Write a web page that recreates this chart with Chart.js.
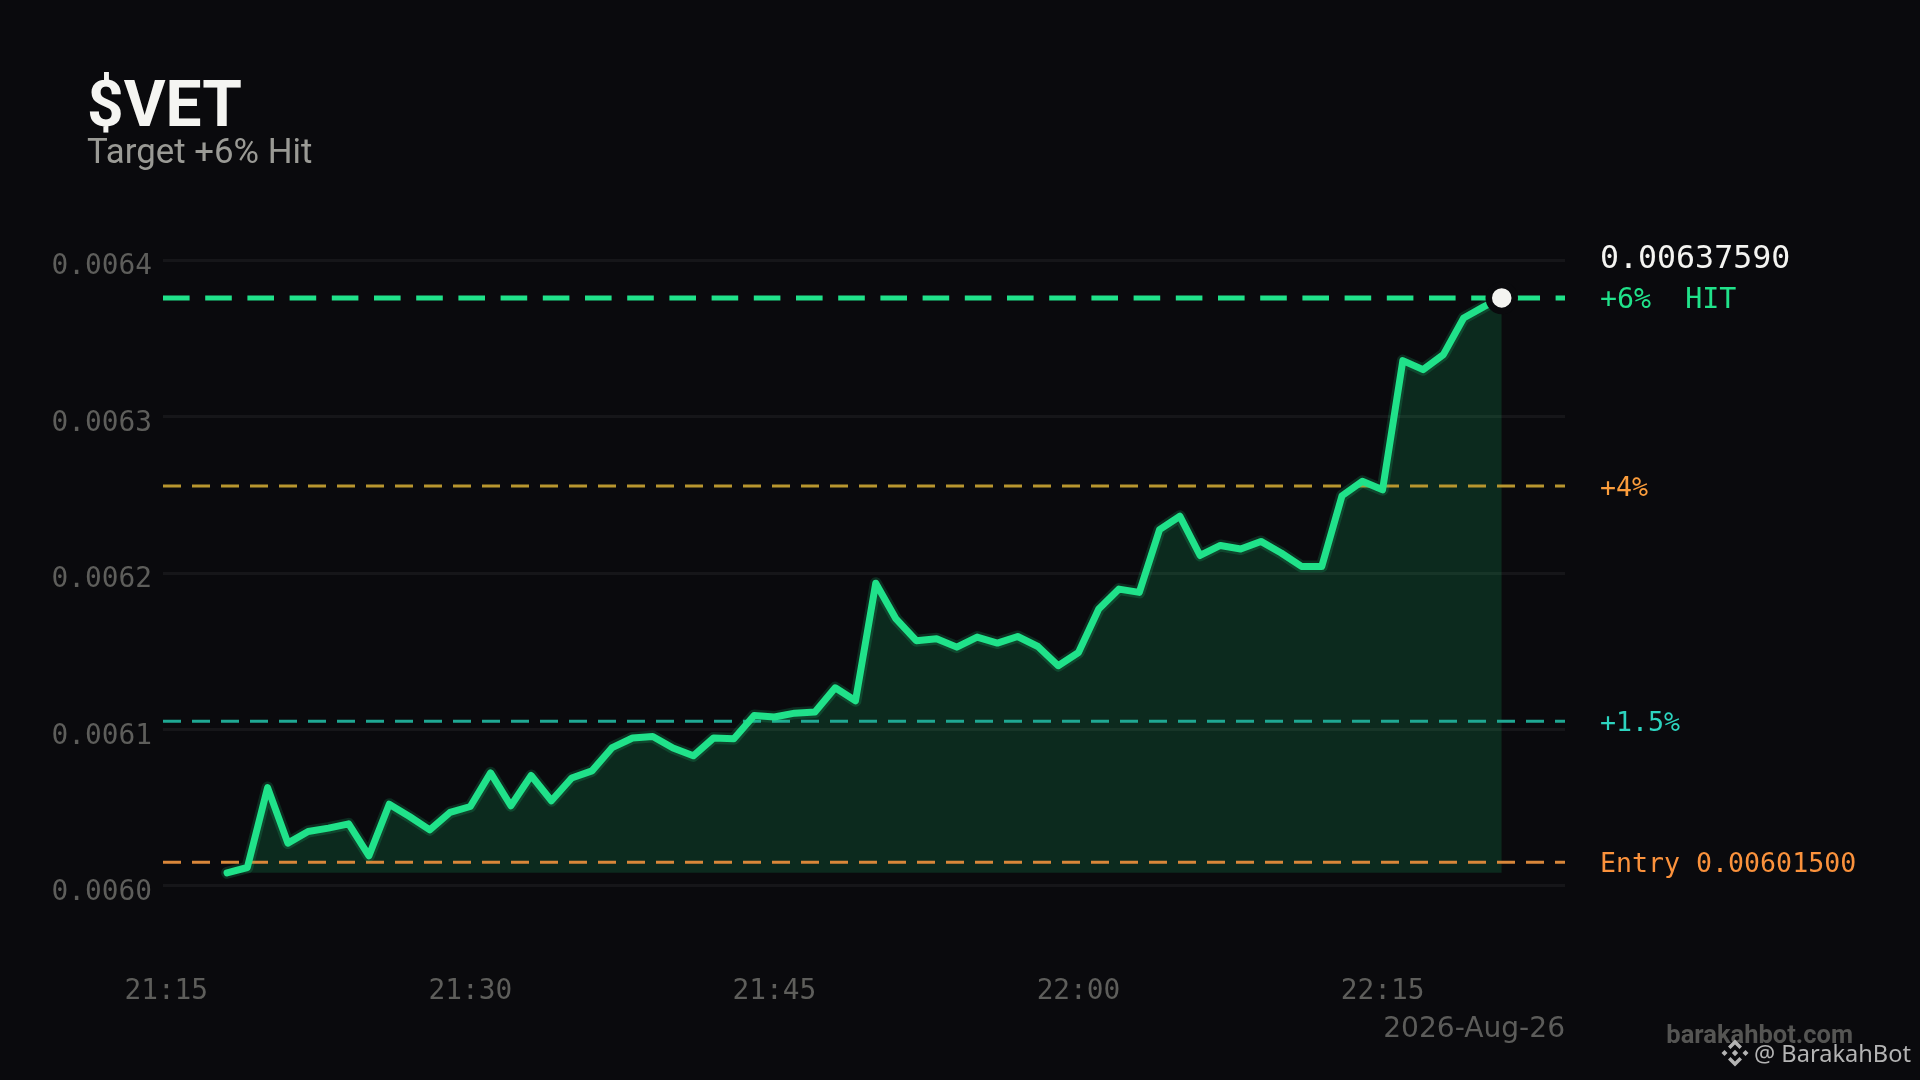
<!DOCTYPE html>
<html>
<head>
<meta charset="utf-8">
<title>$VET</title>
<script src="https://cdn.jsdelivr.net/npm/chart.js@4"></script>
<style>
    html, body { margin: 0; padding: 0; background: #0a0a0d; }
    canvas { display: block; }
</style>
</head>
<body>
<canvas id="grafico" width="1920" height="1080"></canvas>
<script>
// minutes since midnight, 21:18 to 22:20
const priceTimes = [
    1278, 1279, 1280, 1281, 1282, 1283, 1284, 1285, 1286, 1287, 1288, 1289, 1290, 1291, 1292, 1293,
    1294, 1295, 1296, 1297, 1298, 1299, 1300, 1301, 1302, 1303, 1304, 1305, 1306, 1307, 1308, 1309,
    1310, 1311, 1312, 1313, 1314, 1315, 1316, 1317, 1318, 1319, 1320, 1321, 1322, 1323, 1324, 1325,
    1326, 1327, 1328, 1329, 1330, 1331, 1332, 1333, 1334, 1335, 1336, 1337, 1338, 1339, 1340, 1340.88
];
const priceValues = [
    0.0060083, 0.0060117, 0.0060628, 0.0060273, 0.0060347, 0.0060369, 0.0060396, 0.0060192,
    0.0060522, 0.0060443, 0.0060358, 0.0060469, 0.0060507, 0.0060722, 0.0060512, 0.0060705,
    0.0060544, 0.0060689, 0.0060735, 0.0060884, 0.0060945, 0.0060955, 0.0060881, 0.0060831,
    0.0060945, 0.0060940, 0.0061089, 0.0061079, 0.0061104, 0.0061111, 0.0061266, 0.0061183,
    0.0061935, 0.0061706, 0.0061567, 0.0061580, 0.0061526, 0.0061590, 0.0061552, 0.0061594,
    0.0061530, 0.0061407, 0.0061492, 0.0061770, 0.0061897, 0.0061876, 0.0062277, 0.0062363,
    0.0062112, 0.0062176, 0.0062153, 0.0062202, 0.0062128, 0.0062042, 0.0062042, 0.0062494,
    0.0062586, 0.0062532, 0.0063358, 0.0063300, 0.0063396, 0.0063630, 0.0063703, 0.0063759
];
const xTickValues = [1275, 1290, 1305, 1320, 1335];
const xTickLabels = ["21:15", "21:30", "21:45", "22:00", "22:15"];
const yTickValues = [0.0060, 0.0061, 0.0062, 0.0063, 0.0064];
const yTickLabels = ["0.0060", "0.0061", "0.0062", "0.0063", "0.0064"];

const levelValues = [0.0063759, 0.0062556, 0.00610523, 0.006015];
const levelLabels = ["+6%  HIT", "+4%", "+1.5%", "Entry 0.00601500"];
const levelLineColors = ["#20e28a", "#b8962f", "#1fa893", "#d9873a"];
const levelTextColors = ["#20e28a", "#fb9d3c", "#2dd4bf", "#fb923c"];
const levelWidths = [5, 3, 3, 3];
const levelDashes = [[26.6, 15.6], [18, 11], [18, 11], [18, 11]];
const levelFontSizes = [28.3, 26.6, 26.6, 26.6];

const xMin = 1274.84;
const xMax = 1344;
const lastIndex = priceValues.length - 1;
const priceData = priceTimes.map((t, i) => ({ x: t, y: priceValues[i] }));

const monoFont = '"DejaVu Sans Mono", monospace';

function dibujaLogo(ctx, cx, cy) {
    const formas = [
        [[0, -13.5], [7, -6.5], [4.5, -4], [0, -8.5], [-4.5, -4], [-7, -6.5]],
        [[0, 13.5], [7, 6.5], [4.5, 4], [0, 8.5], [-4.5, 4], [-7, 6.5]],
        [[-13.5, 0], [-10.5, -3], [-7.5, 0], [-10.5, 3]],
        [[13.5, 0], [10.5, -3], [7.5, 0], [10.5, 3]],
        [[0, -3.2], [3.2, 0], [0, 3.2], [-3.2, 0]]
    ];
    formas.forEach(f => {
        ctx.beginPath();
        f.forEach((p, i) => {
            if (i === 0) ctx.moveTo(cx + p[0], cy + p[1]);
            else ctx.lineTo(cx + p[0], cy + p[1]);
        });
        ctx.closePath();
        ctx.fill();
    });
}

function cargaGrafico() {
    const datasets = [];

    // area under the price
    datasets.push({
        data: priceData,
        borderWidth: 0,
        pointRadius: 0,
        backgroundColor: "rgba(30, 226, 130, 0.15)",
        fill: { value: Math.min(...priceValues) },
        order: 10
    });

    levelValues.forEach((v, i) => {
        datasets.push({
            data: [{ x: xMin, y: v }, { x: xMax, y: v }],
            borderColor: levelLineColors[i],
            borderWidth: levelWidths[i],
            borderDash: levelDashes[i],
            pointRadius: 0,
            fill: false,
            order: 9 - i
        });
    });

    // halo
    datasets.push({
        data: priceData,
        borderColor: "rgba(32, 226, 138, 0.16)",
        borderWidth: 12,
        borderJoinStyle: "round",
        borderCapStyle: "round",
        pointRadius: 0,
        fill: false,
        order: 3
    });

    datasets.push({
        data: priceData,
        borderColor: "#20e28a",
        borderWidth: 7,
        borderJoinStyle: "round",
        borderCapStyle: "round",
        pointRadius: 0,
        fill: false,
        order: 2
    });

    // last price dot
    datasets.push({
        data: [priceData[lastIndex]],
        showLine: false,
        pointRadius: 13,
        pointBackgroundColor: "#f4f4f1",
        pointBorderColor: "#0a0a0d",
        pointBorderWidth: 6.5,
        clip: false,
        order: 1
    });

    const textos = {
        id: "textos",
        afterDraw(chart) {
            const ctx = chart.ctx;
            const y = chart.scales.y;
            ctx.save();
            ctx.textBaseline = "alphabetic";
            ctx.textAlign = "left";

            ctx.fillStyle = "#f5f5f2";
            ctx.font = 'bold 64px Roboto';
            ctx.fillText("$VET", 87, 126);
            ctx.fillStyle = "#9a9a95";
            ctx.font = '34.8px Roboto';
            ctx.fillText("Target +6% Hit", 87, 163);

            ctx.textBaseline = "middle";
            ctx.fillStyle = "#f4f4f1";
            ctx.font = "31.6px " + monoFont;
            ctx.fillText("0.00637590", 1600, 260);

            levelLabels.forEach((txt, i) => {
                ctx.fillStyle = levelTextColors[i];
                ctx.font = levelFontSizes[i] + "px " + monoFont;
                ctx.fillText(txt, 1600, y.getPixelForValue(levelValues[i]) + 3);
            });

            ctx.textAlign = "right";
            ctx.fillStyle = "#5c5c5a";
            ctx.font = '28.1px "DejaVu Sans"';
            ctx.fillText("2026-Aug-26", 1565, 1030);

            ctx.fillStyle = "#555553";
            ctx.font = 'bold 25.5px Roboto';
            ctx.fillText("barakahbot.com", 1853, 1037);

            ctx.textAlign = "left";
            ctx.fillStyle = "#b4b4b4";
            ctx.font = '23.6px "Noto Sans"';
            ctx.fillText("@ BarakahBot", 1754, 1055);

            dibujaLogo(ctx, 1735, 1053);
            ctx.restore();
        }
    };

    const config = {
        type: "line",
        data: { datasets: datasets },
        options: {
            responsive: false,
            animation: false,
            events: [],
            layout: { padding: { top: 182, right: 355, bottom: 0, left: 0 } },
            scales: {
                x: {
                    type: "linear",
                    min: xMin,
                    max: xMax,
                    afterBuildTicks: axis => { axis.ticks = xTickValues.map(v => ({ value: v })); },
                    afterFit: axis => { axis.height = 116; },
                    grid: { display: false },
                    border: { display: false },
                    ticks: {
                        autoSkip: false,
                        maxRotation: 0,
                        padding: 3,
                        color: "#5e5e5b",
                        font: { family: monoFont, size: 27.8 },
                        callback: (value, i) => xTickLabels[i]
                    }
                },
                y: {
                    min: 0.00595,
                    max: 0.00645,
                    afterBuildTicks: axis => { axis.ticks = yTickValues.map(v => ({ value: v })); },
                    afterFit: axis => { axis.width = 163; },
                    grid: { color: "rgba(255, 255, 255, 0.05)", lineWidth: 3, drawTicks: false },
                    border: { display: false },
                    ticks: {
                        autoSkip: false,
                        padding: 11,
                        labelOffset: 7,
                        color: "#5e5e5b",
                        font: { family: monoFont, size: 27.8 },
                        callback: (value, i) => yTickLabels[i]
                    }
                }
            },
            plugins: {
                legend: { display: false },
                tooltip: { enabled: false }
            }
        },
        plugins: [textos]
    };

    new Chart(document.getElementById("grafico").getContext("2d"), config);
}

window.onload = cargaGrafico;
</script>
</body>
</html>
